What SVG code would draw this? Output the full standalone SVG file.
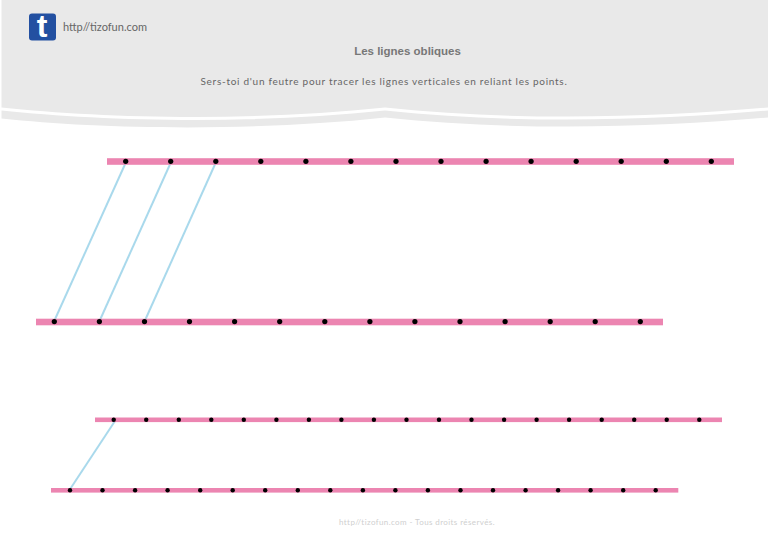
<svg xmlns="http://www.w3.org/2000/svg" width="768" height="543" viewBox="0 0 768 543">
<style>
.bar{fill:#ec85b1}
.dot{fill:#000}
.lnk{stroke:#a9d9ec;stroke-width:2;fill:none}
.geo{font-family:"Lato","Open Sans",sans-serif}
</style>
<defs>
<circle id="d" class="dot" r="2.600"/>
<circle id="s" class="dot" r="2.200"/>
</defs>
<rect width="768" height="543" fill="#fff"/>
<g id="header">
<path d="M1.500 0H768V107.500C660 117 520 122 385 107.500C250 122 100 118 1.500 107.500Z" fill="#e9e9e9"/>
<path d="M1.500 110.500C100 121 250 125 385 110.500C520 125 660 120 768 110.500V117.500C660 127 520 132 385 117.500C250 132 100 129 1.500 118.500Z" fill="#e9e9e9"/>
<rect x="29" y="13.500" width="27" height="27" rx="3" fill="#2350a1"/>
<text x="42" y="37" text-anchor="middle" font-family="Liberation Sans,sans-serif" font-size="32" font-weight="700" fill="#fff">t</text>
<text class="geo" x="63" y="31" font-size="11" fill="#666">http//tizofun.com</text>
<text x="407.500" y="55" text-anchor="middle" font-family="Liberation Sans,sans-serif" font-weight="700" font-size="11.500" fill="#777">Les lignes obliques</text>
<text class="geo" x="384" y="85" text-anchor="middle" font-size="10" letter-spacing="0.720" fill="#666">Sers-toi d'un feutre pour tracer les lignes verticales en reliant les points.</text>
</g>
<g id="connectors">
<line class="lnk" x1="126.500" y1="161" x2="54" y2="321.500"/>
<line class="lnk" x1="171.500" y1="161" x2="99.300" y2="321.500"/>
<line class="lnk" x1="216.500" y1="161" x2="144.500" y2="321.500"/>
<line class="lnk" x1="115" y1="421" x2="69.500" y2="490"/>
</g>
<g id="row1">
<rect class="bar" x="107" y="158.200" width="627" height="6.600"/>
<use href="#d" x="125.700" y="161.300"/><use href="#d" x="170.700" y="161.300"/><use href="#d" x="215.800" y="161.300"/><use href="#d" x="260.800" y="161.300"/><use href="#d" x="305.900" y="161.300"/><use href="#d" x="350.900" y="161.300"/><use href="#d" x="396" y="161.300"/><use href="#d" x="441" y="161.300"/><use href="#d" x="486.100" y="161.300"/><use href="#d" x="531.100" y="161.300"/><use href="#d" x="576.200" y="161.300"/><use href="#d" x="621.200" y="161.300"/><use href="#d" x="666.300" y="161.300"/><use href="#d" x="711.300" y="161.300"/>
</g>
<g id="row2">
<rect class="bar" x="36" y="318.700" width="627" height="6.600"/>
<use href="#d" x="54.300" y="321.600"/><use href="#d" x="99.400" y="321.600"/><use href="#d" x="144.500" y="321.600"/><use href="#d" x="189.500" y="321.600"/><use href="#d" x="234.600" y="321.600"/><use href="#d" x="279.700" y="321.600"/><use href="#d" x="324.800" y="321.600"/><use href="#d" x="369.900" y="321.600"/><use href="#d" x="414.900" y="321.600"/><use href="#d" x="460" y="321.600"/><use href="#d" x="505.100" y="321.600"/><use href="#d" x="550.200" y="321.600"/><use href="#d" x="595.200" y="321.600"/><use href="#d" x="640.300" y="321.600"/>
</g>
<g id="row3">
<rect class="bar" x="95" y="417.500" width="627" height="4.600"/>
<use href="#s" x="113.700" y="419.700"/><use href="#s" x="146.200" y="419.700"/><use href="#s" x="178.800" y="419.700"/><use href="#s" x="211.300" y="419.700"/><use href="#s" x="243.800" y="419.700"/><use href="#s" x="276.400" y="419.700"/><use href="#s" x="308.900" y="419.700"/><use href="#s" x="341.400" y="419.700"/><use href="#s" x="373.900" y="419.700"/><use href="#s" x="406.500" y="419.700"/><use href="#s" x="439" y="419.700"/><use href="#s" x="471.500" y="419.700"/><use href="#s" x="504.100" y="419.700"/><use href="#s" x="536.600" y="419.700"/><use href="#s" x="569.100" y="419.700"/><use href="#s" x="601.700" y="419.700"/><use href="#s" x="634.200" y="419.700"/><use href="#s" x="666.700" y="419.700"/><use href="#s" x="699.300" y="419.700"/>
</g>
<g id="row4">
<rect class="bar" x="51" y="488" width="627.300" height="4.600"/>
<use href="#s" x="70" y="490.300"/><use href="#s" x="102.500" y="490.300"/><use href="#s" x="135.100" y="490.300"/><use href="#s" x="167.600" y="490.300"/><use href="#s" x="200.200" y="490.300"/><use href="#s" x="232.700" y="490.300"/><use href="#s" x="265.200" y="490.300"/><use href="#s" x="297.800" y="490.300"/><use href="#s" x="330.300" y="490.300"/><use href="#s" x="362.900" y="490.300"/><use href="#s" x="395.400" y="490.300"/><use href="#s" x="427.900" y="490.300"/><use href="#s" x="460.500" y="490.300"/><use href="#s" x="493" y="490.300"/><use href="#s" x="525.600" y="490.300"/><use href="#s" x="558.100" y="490.300"/><use href="#s" x="590.600" y="490.300"/><use href="#s" x="623.200" y="490.300"/><use href="#s" x="655.700" y="490.300"/>
</g>
<text id="footer" class="geo" x="417" y="525" text-anchor="middle" font-size="8" letter-spacing="0.400" fill="#cfcfcf">http//tizofun.com - Tous droits réservés.</text>
</svg>
